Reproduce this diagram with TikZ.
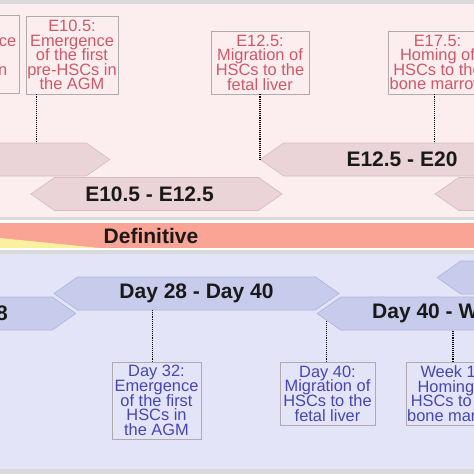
\documentclass[tikz,border=0pt]{standalone}
\usepackage{fontspec}
\setmainfont{Liberation Sans}
\usetikzlibrary{shapes.symbols}

\definecolor{pinkbg}{RGB}{252,238,239}
\definecolor{pinktext}{RGB}{206,88,104}
\definecolor{pinkarrow}{RGB}{234,212,216}
\definecolor{pinkedge}{RGB}{214,190,195}
\definecolor{bluebg}{RGB}{228,228,248}
\definecolor{bluetext}{RGB}{70,70,176}
\definecolor{bluearrow}{RGB}{200,204,236}
\definecolor{blueedge}{RGB}{176,180,220}
\definecolor{boxedge}{RGB}{176,170,172}
\definecolor{stripgray}{RGB}{218,218,218}
\definecolor{salmon}{RGB}{249,164,148}
\definecolor{paleyellow}{RGB}{250,240,160}

\newcommand\eventfont{\fontsize{16.4}{14.6}\selectfont\lineskiplimit=-20pt\relax}
\newcommand\spanfont{\bfseries\fontsize{21}{24}\selectfont}

\tikzset{
  event/.style={draw=boxedge,line width=0.7pt,inner sep=0pt,align=center,
    font=\eventfont},
  mouse/.style={event,fill=pinkbg,text=pinktext},
  human/.style={event,fill=bluebg,text=bluetext},
  span/.style={signal,signal pointer angle=70,inner sep=0pt,minimum height=33pt,
    line width=0.7pt,text=black!90,font=\spanfont},
  mspan/.style={span,fill=pinkarrow,draw=pinkedge},
  hspan/.style={span,fill=bluearrow,draw=blueedge},
  guide/.style={densely dotted,line width=1.1pt}
}

\begin{document}
\begin{tikzpicture}[x=1pt,y=-1pt]
  \useasboundingbox (0,0) rectangle (474,474);
  \clip (0,0) rectangle (474,474);
  % bands
  \fill[stripgray] (0,0) rectangle (474,474);
  \fill[pinkbg] (0,4) rectangle (474,217);
  \fill[white] (0,220) rectangle (474,223);
  \fill[salmon] (0,223) rectangle (474,248);
  \fill[paleyellow] (0,238) -- (100,248) -- (0,248) -- cycle;
  \fill[white] (0,248) rectangle (474,250);
  \fill[bluebg] (0,254) rectangle (474,469);
  \node[font=\spanfont,text=black!90] (defin) at (151,236) {Definitive};

  % mouse time spans
  \node[mspan,signal to=east,minimum width=260pt] (sA) at (-32,159.5) {};
  \node[mspan,signal to=west and east,minimum width=251pt] (sB) at (156.5,194) {E10.5 - E12.5\kern14pt};
  \node[mspan,signal to=west,minimum width=260pt] (sC) at (402,159.5) {E12.5 - E20};
  \node[mspan,signal to=west,minimum width=165pt] (sD) at (529.5,194) {};

  % mouse events
  \node[mouse,minimum width=100pt,minimum height=78pt,anchor=north east] (e75) at (20,15) {};
  \node[text=pinktext,font=\eventfont,anchor=east,inner sep=0pt] (e75b) at (16.5,42.5) {ce};
  \node[text=pinktext,font=\eventfont,anchor=east,inner sep=0pt] (e75d) at (7.5,71.5) {n};
  \node[mouse,minimum width=92pt,minimum height=78pt] (e105) at (72,55) {E10.5:\\Emergence\\of the first\\pre-HSCs in\\the AGM};
  \node[mouse,minimum width=98pt,minimum height=63pt] (e125) at (260,62.5) {E12.5:\\Migration of\\HSCs to the\\fetal liver};
  \node[mouse,minimum width=99pt,minimum height=63pt] (e175) at (437.5,62.5) {E17.5:\\Homing of\\HSCs to the\\bone marrow};

  \draw[guide] ([xshift=11pt]e105.south west) -- ([xshift=11pt]e105.south west |- sA.north);
  \draw[guide] (e125.south) -- (e125.south |- sC.west);
  \draw[guide] ([xshift=-3pt]e175.south) -- ([xshift=-3pt]e175.south |- sC.north);

  % human time spans
  \node[hspan,signal to=east,minimum width=226pt] (sE) at (-49,313.5) {};
  \node[text=black!90,font=\spanfont,anchor=east,inner sep=0pt] (eLab) at (8,313.5) {8};
  \node[hspan,signal to=west,minimum width=163pt] (sH) at (530.5,277.5) {};
  \node[hspan,signal to=west and east,minimum width=285pt] (sF) at (196.5,293.5) {Day 28 - Day 40};
  \node[hspan,signal to=west,minimum width=283pt] (sG) at (470.5,313.5) {};
  \node[text=black!90,font=\spanfont,anchor=west,inner sep=0pt] (gLab) at (372,313.5) {Day 40 - W};

  % human events
  \node[human,minimum width=89pt,minimum height=77pt] (d32) at (156.5,400.5) {Day 32:\\Emergence\\of the first\\HSCs in\\the AGM};
  \node[human,minimum width=95pt,minimum height=63pt] (d40) at (327.5,393.5) {Day 40:\\Migration of\\HSCs to the\\fetal liver};
  \node[human,minimum width=98pt,minimum height=63pt] (wk) at (455,393.5) {Week 1\phantom{0:}\\Homing of\\HSCs to the\\bone marrow};

  \draw[guide] ([xshift=-4pt]d32.north) -- ([xshift=-4pt]d32.north |- sF.south);
  \draw[guide,shorten >=7pt] ([xshift=-1pt]d40.north) -- ([xshift=-1pt]d40.north |- sG.west);
  \draw[guide] ([xshift=-2pt]wk.north) -- ([xshift=-2pt]wk.north |- sG.south);
\end{tikzpicture}
\end{document}
